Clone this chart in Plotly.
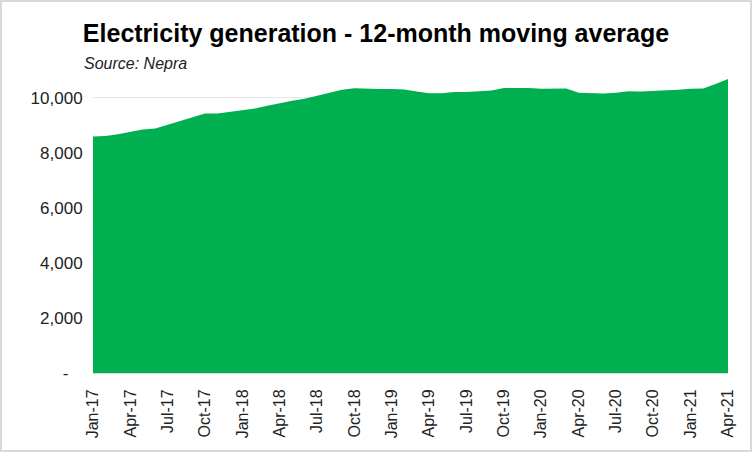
import plotly.graph_objects as go

# monthly labels Jan-17 .. Apr-21
months = ['Jan', 'Feb', 'Mar', 'Apr', 'May', 'Jun', 'Jul', 'Aug', 'Sep', 'Oct', 'Nov', 'Dec']
month_labels = [f"{m}-{y}" for y in range(17, 22) for m in months][:52]

# 12-month moving average of generation (GWh)
generation = [
    8590, 8600, 8670, 8750, 8840, 8880, 9010, 9150, 9280, 9420, 9420, 9480,
    9560, 9600, 9700, 9800, 9880, 9960, 10060, 10170, 10280, 10340, 10320, 10310,
    10310, 10290, 10220, 10160, 10160, 10200, 10200, 10220, 10260, 10350, 10360, 10350,
    10320, 10320, 10330, 10170, 10150, 10150, 10170, 10230, 10220, 10240, 10250, 10280,
    10320, 10330, 10490, 10670,
]

y_ticks = [0, 2000, 4000, 6000, 8000, 10000]
y_tick_text = ['-\u00a0\u00a0\u00a0', '2,000', '4,000', '6,000', '8,000', '10,000']

fig = go.Figure()
fig.add_trace(
    go.Scatter(
        x=month_labels,
        y=generation,
        mode='lines',
        fill='tozeroy',
        fillcolor='#00B050',
        line=dict(color='#00B050', width=0),
        hoverinfo='x+y',
    )
)

fig.update_layout(
    width=752,
    height=452,
    margin=dict(l=93, r=24, t=70, b=79),
    paper_bgcolor='white',
    plot_bgcolor='white',
    showlegend=False,
    font=dict(family='Liberation Sans, Arial, sans-serif', color='#222222'),
    title=dict(
        text='<b>Electricity generation - 12-month moving average</b>',
        font=dict(size=25, color='black'),
        x=0.5, xref='container', xanchor='center',
        y=0.927, yref='container', yanchor='middle',
    ),
    annotations=[
        dict(
            text='<i>Source: Nepra</i>',
            xref='paper', yref='paper',
            x=-0.018, y=1.023, xanchor='left', yanchor='middle',
            showarrow=False, font=dict(size=16, color='#222222'),
        )
    ],
    shapes=[
        # light grey frame round the whole picture
        dict(type='rect', xref='paper', yref='paper',
             x0=-92 / 635, x1=1 + 23 / 635, y0=-78 / 303, y1=1 + 69 / 303,
             line=dict(color='#d9d9d9', width=2), fillcolor='rgba(0,0,0,0)', layer='below')
    ],
)

fig.update_xaxes(
    type='category',
    range=[0, len(month_labels) - 1],
    tickvals=month_labels[::3],
    ticktext=month_labels[::3],
    tickangle=-90,
    tickfont=dict(size=16, color='#222222'),
    showgrid=False,
    showline=True,
    linecolor='#d9d9d9',
    linewidth=1,
    ticks='outside',
    ticklen=9,
    tickcolor='rgba(0,0,0,0)',
)
fig.update_yaxes(
    range=[0, 11000],
    tickvals=y_ticks,
    ticktext=y_tick_text,
    tickfont=dict(size=17, color='#222222'),
    showgrid=True,
    gridcolor='#e6e6e6',
    zeroline=False,
    ticks='outside',
    ticklen=6,
    tickcolor='rgba(0,0,0,0)',
)

# drop the default page margin so the figure sits at the window origin
fig.write_html("out.html", config={'displayModeBar': False},
               post_script="document.body.style.margin='0';")
